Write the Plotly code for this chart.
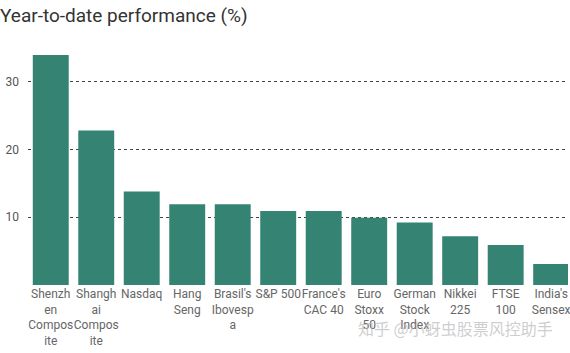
import plotly.graph_objects as go

categories = ["Shenzhen Composite", "Shanghai Composite", "Nasdaq", "Hang Seng",
              "Brasil's Ibovespa", "S&P 500", "France's CAC 40", "Euro Stoxx 50",
              "German Stock Index", "Nikkei 225", "FTSE 100", "India's Sensex"]
tick_labels = ["Shenzh<br>en<br>Compos<br>ite", "Shangh<br>ai<br>Compos<br>ite", "Nasdaq",
               "Hang<br>Seng", "Brasil's<br>Ibovesp<br>a", "S&P 500", "France's<br>CAC 40",
               "Euro<br>Stoxx<br>50", "German<br>Stock<br>Index", "Nikkei<br>225",
               "FTSE<br>100", "India's<br>Sensex"]
values = [33.9, 22.8, 13.8, 11.9, 11.9, 10.9, 10.9, 9.9, 9.2, 7.2, 5.9, 3.1]
y_ticks = [0, 10, 20, 30]
y_tick_labels = ["", "10", "20", "30"]

fig = go.Figure(go.Bar(
    x=categories, y=values, marker_color="#358373", marker_line_width=0,
))

fig.update_layout(
    width=570, height=353,
    margin=dict(l=28, r=0, t=48, b=68),
    paper_bgcolor="white", plot_bgcolor="white",
    bargap=0.21,
    showlegend=False,
    font=dict(family="Roboto", color="#666"),
    title=dict(text="Year-to-date performance (%)", x=0, xanchor="left", xref="container",
               y=0.975, yanchor="top", yref="container",
               font=dict(family="Roboto", size=19, color="#333"), pad=dict(l=0, t=0)),
)
fig.update_xaxes(tickmode="array", tickvals=categories, ticktext=tick_labels,
                 range=[-0.5, 11.37], showgrid=False, showline=False, ticks="",
                 tickfont=dict(size=12, color="#666"), tickangle=0)
fig.update_yaxes(tickmode="array", tickvals=y_ticks, ticktext=y_tick_labels,
                 range=[0, 34.95], showgrid=True, gridcolor="#444", griddash="3px,3px",
                 gridwidth=1, zeroline=False, showline=False, ticks="",
                 ticklabelstandoff=8, tickfont=dict(size=12, color="#555"))

fig.add_annotation(text="知乎 @小蚜虫股票风控助手", xref="paper", yref="paper",
                   x=(357 - 28) / 542, y=-(328 - 285) / 237,
                   xanchor="left", yanchor="middle", showarrow=False,
                   font=dict(family="Noto Sans CJK SC", size=16, color="rgba(190,190,190,0.75)"))

fig.write_html("out.html")
